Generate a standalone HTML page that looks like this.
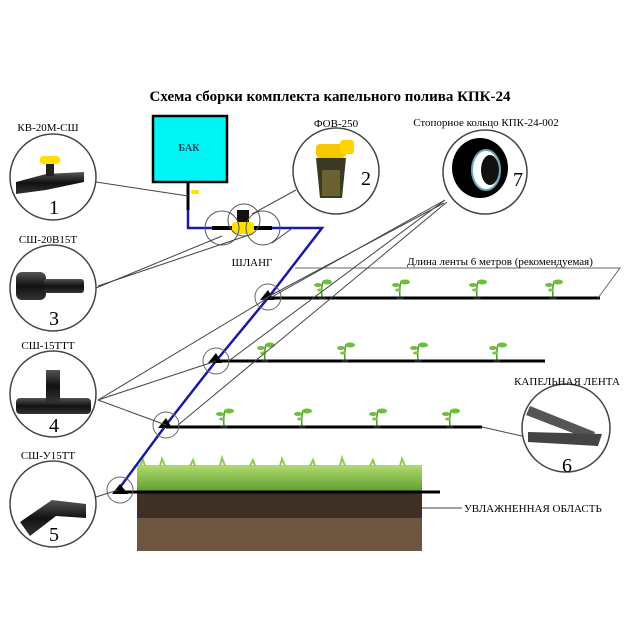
<!DOCTYPE html>
<html><head><meta charset="utf-8"><style>
html,body{margin:0;padding:0;background:#fff;}
svg{display:block;}
text{font-family:"Liberation Serif","DejaVu Serif",serif;}
</style></head><body>
<svg width="640" height="640" viewBox="0 0 640 640" xmlns="http://www.w3.org/2000/svg">
<defs>
<linearGradient id="grass" x1="0" y1="0" x2="0" y2="1">
<stop offset="0" stop-color="#b0dc70"/><stop offset="1" stop-color="#5a9a2a"/></linearGradient>
<linearGradient id="pipe" x1="0" y1="0" x2="0" y2="1">
<stop offset="0" stop-color="#555"/><stop offset="0.5" stop-color="#111"/><stop offset="1" stop-color="#333"/></linearGradient>
<g id="plant"><path d="M0,0 q-1,-8 1,-16" stroke="#4a9a2a" stroke-width="1.5" fill="none"/>
<ellipse cx="5" cy="-15" rx="5" ry="2.5" fill="#6cbf3a"/><ellipse cx="-4" cy="-12" rx="4" ry="2" fill="#6cbf3a"/>
<ellipse cx="-2" cy="-7" rx="3" ry="1.6" fill="#7cc94a"/><ellipse cx="0" cy="1" rx="4" ry="1.5" fill="#222"/></g>
</defs>

<text x="330" y="101" font-size="15" font-weight="bold" text-anchor="middle">Схема сборки комплекта капельного полива КПК-24</text>

<!-- soil -->
<rect x="137" y="492" width="285" height="28" fill="#3e3024"/>
<rect x="137" y="518" width="285" height="33" fill="#6e5540"/>
<rect x="137" y="465" width="285" height="28" fill="url(#grass)"/>
<path d="M140,466 l3,-6 l2,6 M160,466 l2,-7 l3,7 M190,466 l3,-6 l2,6 M220,466 l2,-8 l3,8 M250,466 l3,-6 l2,6 M280,466 l2,-7 l3,7 M310,466 l3,-6 l2,6 M340,466 l2,-8 l3,8 M370,466 l3,-6 l2,6 M400,466 l2,-7 l3,7" stroke="#8ccc50" stroke-width="2" fill="none"/>

<!-- tank -->
<rect x="153" y="116" width="74" height="66" fill="#00f5f5" stroke="#000" stroke-width="2.5"/>
<text x="189" y="151" font-size="10" font-weight="bold" text-anchor="middle" fill="#1a4a5a">БАК</text>
<line x1="188" y1="182" x2="188" y2="210" stroke="#000" stroke-width="3"/>
<rect x="191" y="190" width="8" height="4" rx="2" fill="#ffe000"/>

<!-- hose -->
<polyline points="188,210 188,228 322,228 268,298 216,361 166,425 118,490" fill="none" stroke="#1a1aa0" stroke-width="2.5"/>
<line x1="212" y1="228" x2="272" y2="228" stroke="#000" stroke-width="4"/>
<rect x="232" y="222" width="22" height="12" rx="3" fill="#ffe000"/>
<rect x="237" y="210" width="12" height="12" fill="#111"/>
<g fill="none" stroke="#555" stroke-width="1">
<circle cx="222" cy="228" r="17"/><circle cx="244" cy="220" r="16"/><circle cx="263" cy="228" r="17"/>
</g>

<!-- tapes -->
<g stroke="#000" stroke-width="3">
<line x1="268" y1="298" x2="600" y2="298"/>
<line x1="216" y1="361" x2="545" y2="361"/>
<line x1="166" y1="427" x2="482" y2="427"/>
<line x1="118" y1="492" x2="440" y2="492"/>
</g>
<polyline points="295,268 620,268 598,298" fill="none" stroke="#666" stroke-width="1"/>
<text x="500" y="265" font-size="11" text-anchor="middle">Длина ленты 6 метров (рекомендуемая)</text>

<g>
<use href="#plant" x="322" y="297"/><use href="#plant" x="400" y="297"/><use href="#plant" x="477" y="297"/><use href="#plant" x="553" y="297"/>
<use href="#plant" x="265" y="360"/><use href="#plant" x="345" y="360"/><use href="#plant" x="418" y="360"/><use href="#plant" x="497" y="360"/>
<use href="#plant" x="224" y="426"/><use href="#plant" x="302" y="426"/><use href="#plant" x="377" y="426"/><use href="#plant" x="450" y="426"/>
</g>

<!-- junction elbows -->
<g fill="#000"><path d="M260,300 l8,-10 l6,10z"/><path d="M208,363 l8,-10 l6,10z"/><path d="M158,428 l8,-10 l6,10z"/><path d="M112,494 l8,-10 l8,10z"/></g>
<g fill="none" stroke="#666" stroke-width="1">
<circle cx="268" cy="297" r="13"/><circle cx="216" cy="361" r="13"/><circle cx="166" cy="425" r="13"/><circle cx="120" cy="490" r="13"/>
</g>

<!-- connector lines -->
<g stroke="#444" stroke-width="1" fill="none">
<line x1="96" y1="182" x2="188" y2="196"/>
<line x1="96" y1="288" x2="222" y2="236"/><line x1="98" y1="286" x2="252" y2="234"/>
<line x1="98" y1="400" x2="268" y2="298"/><line x1="98" y1="400" x2="216" y2="361"/><line x1="98" y1="400" x2="166" y2="425"/>
<line x1="96" y1="497" x2="118" y2="490"/>
<line x1="296" y1="190" x2="252" y2="214"/>
<line x1="294" y1="227" x2="272" y2="243"/>
<line x1="445" y1="200" x2="270" y2="298"/><line x1="445" y1="200" x2="230" y2="360"/><line x1="447" y1="202" x2="178" y2="425"/>
<line x1="444" y1="203" x2="262" y2="300"/>
<line x1="482" y1="427" x2="522" y2="436"/>
<line x1="422" y1="508" x2="462" y2="508"/>
</g>

<!-- left circles -->
<g fill="#fff" stroke="#444" stroke-width="1.5">
<circle cx="53" cy="177" r="43"/><circle cx="53" cy="288" r="43"/><circle cx="53" cy="394" r="43"/><circle cx="53" cy="504" r="43"/>
<circle cx="336" cy="171" r="43"/><circle cx="485" cy="172" r="42"/><circle cx="566" cy="428" r="44"/>
</g>
<!-- item 1 -->
<path d="M16,182 l30,-8 l38,-2 l0,10 l-38,8 l-30,4z" fill="url(#pipe)"/>
<rect x="46" y="164" width="8" height="12" fill="#222"/><rect x="40" y="156" width="20" height="8" rx="3" fill="#ffe000"/>
<!-- item 3 -->
<rect x="16" y="272" width="30" height="28" rx="6" fill="url(#pipe)"/><rect x="44" y="279" width="40" height="14" rx="3" fill="url(#pipe)"/>
<!-- item 4 -->
<rect x="16" y="398" width="75" height="16" rx="4" fill="url(#pipe)"/><rect x="46" y="370" width="14" height="32" fill="url(#pipe)"/>
<!-- item 5 -->
<path d="M20,522 l32,-22 l34,4 l0,14 l-30,-2 l-26,20z" fill="url(#pipe)"/>
<!-- item 2 -->
<rect x="316" y="144" width="30" height="14" rx="4" fill="#f5c800"/><rect x="340" y="140" width="14" height="14" rx="3" fill="#ffd400"/>
<path d="M316,158 h30 l-4,40 h-22z" fill="#3a3a20"/><rect x="322" y="170" width="18" height="26" fill="#8a7a40" opacity="0.6"/>
<!-- item 7 -->
<ellipse cx="480" cy="168" rx="28" ry="30" fill="#000"/><ellipse cx="486" cy="170" rx="14" ry="20" fill="#fff" stroke="#6ab" stroke-width="2"/>
<ellipse cx="490" cy="170" rx="9" ry="15" fill="#111"/>
<!-- item 6 -->
<path d="M530,406 l65,26 l-4,8 l-65,-25z" fill="#555"/><path d="M528,432 l74,2 l-4,12 l-70,-4z" fill="#444"/>

<g font-size="20" text-anchor="middle">
<text x="54" y="214">1</text><text x="54" y="325">3</text><text x="54" y="432">4</text><text x="54" y="541">5</text>
<text x="366" y="185">2</text><text x="518" y="186">7</text><text x="567" y="472">6</text>
</g>
<g font-size="11" text-anchor="middle">
<text x="48" y="131">КВ-20М-СШ</text><text x="48" y="243">СШ-20В15Т</text><text x="48" y="349">СШ-15ТТТ</text><text x="48" y="459">СШ-У15ТТ</text>
<text x="336" y="127">ФОВ-250</text><text x="486" y="126">Стопорное кольцо КПК-24-002</text>
<text x="567" y="385">КАПЕЛЬНАЯ ЛЕНТА</text>
<text x="252" y="266">ШЛАНГ</text>
</g>
<text x="464" y="512" font-size="11">УВЛАЖНЕННАЯ ОБЛАСТЬ</text>
</svg>
</body></html>
